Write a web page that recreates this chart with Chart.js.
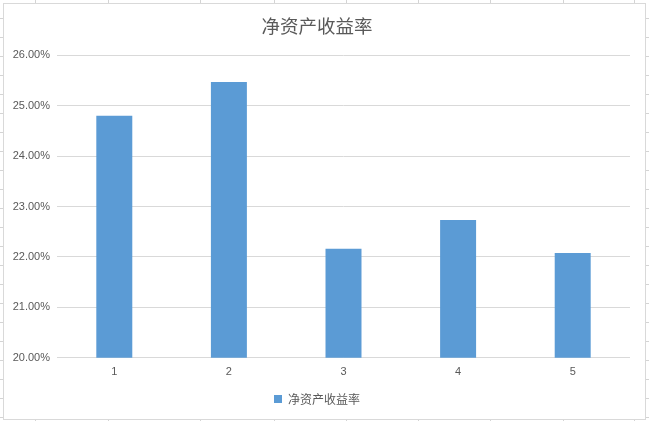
<!DOCTYPE html>
<html>
<head>
<meta charset="utf-8">
<script src="https://cdn.jsdelivr.net/npm/chart.js@4"></script>
<style>
  html, body { margin: 0; padding: 0; }
  body {
    width: 649px; height: 421px; overflow: hidden; position: relative;
    background-color: #ffffff;
    background-image: repeating-linear-gradient(to bottom, transparent 0px, transparent 18px, #d4d4d4 18px, #d4d4d4 19px);
  }
  .vline { position: absolute; top: 0; width: 1px; height: 421px; background: #d4d4d4; }
  #box {
    position: absolute; left: 3px; top: 3px; width: 641px; height: 415px;
    border: 1px solid #d9d9d9; background: #ffffff;
  }
  #c { position: absolute; left: 0; top: 0; }
</style>
</head>
<body>
<div class="vline" style="left:35px"></div>
<div class="vline" style="left:108px"></div>
<div class="vline" style="left:200px"></div>
<div class="vline" style="left:274px"></div>
<div class="vline" style="left:346px"></div>
<div class="vline" style="left:418px"></div>
<div class="vline" style="left:490px"></div>
<div class="vline" style="left:563px"></div>
<div class="vline" style="left:634px"></div>
<div id="box"><canvas id="c" width="641" height="415"></canvas></div>
<script>
const categories = ['1', '2', '3', '4', '5'];
const seriesName = '净资产收益率';
const roeValues = [24.80, 25.47, 22.16, 22.73, 22.08];
const yTicks = [20, 21, 22, 23, 24, 25, 26];

const textColor = '#595959';
const numFont = '"Liberation Sans", Arial, sans-serif';
const cjkFont = '"Noto Sans CJK SC", "Noto Sans", sans-serif';

new Chart(document.getElementById('c'), {
  type: 'bar',
  data: {
    labels: categories,
    datasets: [{
      label: seriesName,
      data: roeValues,
      backgroundColor: '#5b9bd5',
      borderWidth: 0,
      categoryPercentage: 1,
      barPercentage: 0.314
    }]
  },
  options: {
    responsive: false,
    animation: false,
    devicePixelRatio: 1,
    layout: { padding: { left: 0, right: 15, top: 0, bottom: 4 } },
    plugins: {
      title: {
        display: true,
        text: seriesName,
        color: textColor,
        font: { family: cjkFont, size: 18.5, weight: 'normal', lineHeight: 1.2 },
        padding: { top: 11, bottom: 18 }
      },
      legend: {
        display: true,
        position: 'bottom',
        labels: {
          color: textColor,
          font: { family: cjkFont, size: 12 },
          boxWidth: 8,
          boxHeight: 8,
          padding: 6
        }
      },
      tooltip: { enabled: false }
    },
    scales: {
      x: {
        grid: { display: false, drawTicks: false },
        border: { display: false },
        ticks: { color: textColor, font: { family: numFont, size: 11 }, padding: 8 }
      },
      y: {
        min: 20,
        max: 26,
        afterFit: (s) => { s.width = 53; },
        afterBuildTicks: (s) => { s.ticks = yTicks.map(v => ({ value: v })); },
        grid: { color: '#d9d9d9', drawTicks: false, lineWidth: 1 },
        border: { display: false },
        ticks: {
          color: textColor,
          font: { family: numFont, size: 11 },
          padding: 7,
          callback: (v) => Number(v).toFixed(2) + '%'
        }
      }
    }
  }
});
</script>
</body>
</html>
